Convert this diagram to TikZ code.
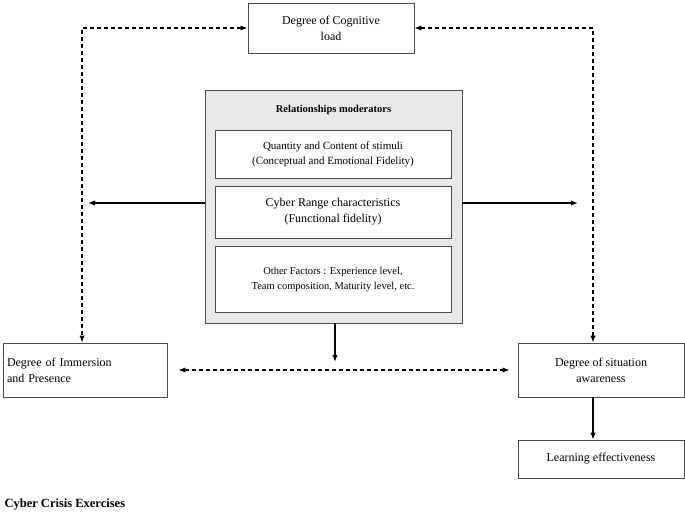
\documentclass[tikz,border=0pt]{standalone}
\usepackage{fontspec}
\setmainfont{Liberation Serif}
\usetikzlibrary{arrows.meta}
\begin{document}
\begin{tikzpicture}[x=1pt,y=-1pt,
 box/.style={draw=black!70,fill=white,line width=0.6pt,align=center,font=\fontsize{12}{16}\selectfont,inner sep=0pt},
 ibox/.style={box,font=\fontsize{11}{15}\selectfont},
 dsh/.style={line width=1.5pt,dash pattern=on 4pt off 3pt,{Latex[length=7pt]}-{Latex[length=7pt]}},
 sol/.style={line width=1.1pt,-{Latex[length=7pt]}}]
\useasboundingbox (0,0) rectangle (685,516);
\node[box,minimum width=166,minimum height=50] (cog) at (331,28) {Degree of Cognitive\\load};
\node[draw=black!70,fill=black!9,line width=0.8pt,minimum width=257,minimum height=233,inner sep=0] (mod) at (333.5,206.5) {};
\node[font=\bfseries\fontsize{10.5}{12}\selectfont] (title) at (333.5,110) {Relationships moderators};
\node[ibox,minimum width=236,minimum height=48] (b1) at (333,154) {Quantity and Content of  stimuli\\(Conceptual and Emotional Fidelity)};
\node[ibox,minimum width=236,minimum height=52,font=\fontsize{12}{16}\selectfont] (b2) at (333,212) {Cyber Range characteristics\\(Functional fidelity)};
\node[ibox,minimum width=236,minimum height=66,font=\fontsize{10.5}{15}\selectfont] (b3) at (333,279) {Other Factors : Experience level,\\Team composition, Maturity level, etc.};
\node[box,minimum width=164,minimum height=54,align=left,text width=156] (imm) at (85,370) {Degree of Immersion\\and Presence};
\node[box,minimum width=166,minimum height=54] (sit) at (601,370) {Degree of situation\\awareness};
\node[box,minimum width=166,minimum height=38] (learn) at (601,459) {Learning effectiveness};
\node[anchor=west,font=\bfseries\fontsize{12.5}{14}\selectfont] (cap) at (1,505) {Cyber Crisis Exercises};
\coordinate (lt) at (82,28); \coordinate (rt) at (593,28);
\draw[dsh] (cog.west) -- (lt) -- (imm.north -| lt);
\draw[dsh] (cog.east) -- (rt) -- (sit.north -| rt);
\coordinate (la) at (88,203); \coordinate (ra) at (578,203);
\draw[sol] (mod.west |- la) -- (la);
\draw[sol] (mod.east |- ra) -- (ra);
\coordinate (da) at (335,362);
\draw[sol] (mod.south -| da) -- (da);
\draw[dsh,shorten <=11pt,shorten >=8pt] (imm.east) -- (sit.west);
\draw[sol] (sit.south -| rt) -- (learn.north -| rt);
\end{tikzpicture}
\end{document}
